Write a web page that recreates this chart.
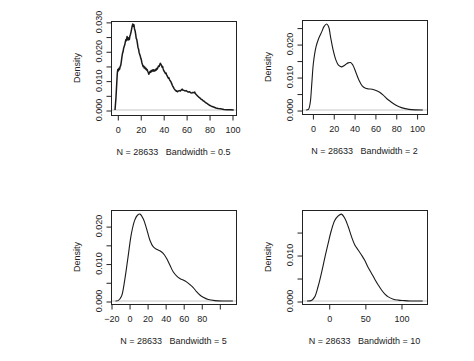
<!DOCTYPE html>
<html>
<head>
<meta charset="utf-8">
<script src="https://cdn.jsdelivr.net/npm/d3@7"></script>
<style>
  body { margin: 0; background: #fff; }
  text { font-family: "Liberation Sans", Arial, sans-serif; fill: #222; white-space: pre; }
</style>
</head>
<body>
<div id="chart"></div>
<script>
const width = 474;
const height = 361;

// density estimates, [x, density]
const bw05 = [[-2,0],[-1.2,0.004],[-0.5,0.009],[0,0.0125],[0.4,0.0138],[0.9,0.0133],[1.4,0.0142],[1.9,0.0138],[2.5,0.0148],[3,0.0152],[3.5,0.0165],[4,0.018],[4.5,0.0192],[5,0.0198],[5.5,0.021],[6,0.0216],[6.5,0.0222],[7,0.0232],[7.5,0.024],[8,0.0236],[8.5,0.025],[9,0.0244],[9.5,0.0238],[10,0.0246],[10.5,0.024],[11,0.0252],[11.5,0.0258],[12,0.0266],[12.5,0.0276],[13,0.0286],[13.5,0.0293],[14,0.0285],[14.5,0.029],[15,0.0276],[15.5,0.027],[16,0.0258],[16.5,0.0244],[17,0.024],[17.5,0.0228],[18,0.0214],[18.5,0.0208],[19,0.0196],[19.5,0.019],[20,0.0184],[20.5,0.0176],[21,0.017],[21.5,0.016],[22,0.0154],[22.5,0.0148],[23,0.015],[23.5,0.0143],[24,0.0146],[24.5,0.014],[25,0.0142],[25.5,0.0136],[26,0.0138],[26.5,0.0132],[27,0.0128],[27.5,0.0122],[28,0.0127],[28.5,0.0131],[29,0.0128],[29.5,0.0134],[30,0.0131],[30.5,0.0136],[31,0.0133],[31.5,0.0137],[32,0.0132],[32.5,0.0136],[33,0.0134],[33.5,0.0139],[34,0.0136],[34.5,0.0142],[35,0.014],[35.5,0.0146],[36,0.015],[36.5,0.0148],[37,0.0154],[37.5,0.0159],[38,0.0156],[38.5,0.0152],[39,0.0146],[39.5,0.0148],[40,0.014],[40.5,0.0134],[41,0.0131],[41.5,0.0128],[42,0.0124],[42.5,0.0126],[43,0.012],[43.5,0.0116],[44,0.0112],[44.5,0.0108],[45,0.011],[45.5,0.0104],[46,0.01],[46.5,0.0098],[47,0.0094],[47.5,0.0089],[48,0.0084],[48.5,0.008],[49,0.0077],[49.5,0.0073],[50,0.007],[50.5,0.0068],[51,0.0066],[51.5,0.0064],[52,0.0065],[52.5,0.0062],[53,0.0064],[54,0.0066],[55,0.0065],[56,0.0069],[56.5,0.0071],[57,0.0068],[58,0.0067],[59,0.0065],[60,0.0066],[61,0.0063],[62,0.0061],[63,0.0062],[64,0.0059],[65,0.0058],[66,0.006],[67,0.0059],[67.5,0.0061],[68,0.0056],[69,0.0052],[70,0.0048],[71,0.0044],[72,0.0041],[73,0.0037],[74,0.0035],[75,0.0031],[76,0.0029],[77,0.0025],[78,0.0023],[79,0.002],[80,0.0017],[82,0.0013],[84,0.001],[86,0.0007],[88,0.0005],[90,0.0004],[93,0.0002],[96,0.0001],[99,0.00005],[101.5,0]];

const bw2 = [[-6,0],[-3.8,0.0002],[-2.2,0.002],[-0.6,0.008],[0.9,0.0141],[3.5,0.0192],[6,0.0217],[8.9,0.0237],[11.1,0.0253],[13.6,0.0261],[15.5,0.0253],[17.4,0.0222],[19.9,0.0182],[22.5,0.0152],[25,0.0136],[27.8,0.0131],[31,0.0136],[34.2,0.0143],[36.7,0.0144],[38.9,0.0136],[41.5,0.0116],[44.6,0.0091],[47.8,0.0073],[51,0.0066],[54.1,0.0064],[57.3,0.0063],[61.1,0.0059],[64.9,0.0053],[68,0.0045],[71.2,0.0035],[75.3,0.0025],[79.4,0.0016],[83.2,0.001],[88,0.0005],[92.7,0.0002],[99,0.00005],[106,0]];

const bw5 = [[-15,0],[-12.2,0.0001],[-8.5,0.0012],[-4.8,0.0056],[-1.1,0.0118],[2.6,0.018],[6.3,0.0216],[9.3,0.0229],[12.2,0.0232],[15.6,0.022],[19.3,0.0194],[23,0.0163],[26.7,0.0145],[30.4,0.0138],[34.1,0.0134],[37.8,0.0127],[41.5,0.0114],[45.2,0.0096],[48.9,0.0078],[52.6,0.0067],[56.3,0.006],[60,0.0056],[63.7,0.0051],[67.4,0.0044],[71.1,0.0036],[74.8,0.0025],[78.5,0.0016],[82.2,0.001],[87.8,0.0004],[95.2,0.0001],[104.4,0],[115,0]];

const bw10 = [[-30,0],[-24.1,0.0001],[-19.4,0.0009],[-14.8,0.0031],[-10.2,0.006],[-5.6,0.0093],[-0.9,0.0125],[3.7,0.0154],[8.3,0.0175],[13,0.0185],[17.6,0.0189],[22.2,0.018],[26.9,0.0162],[31.5,0.014],[36.1,0.0122],[40.7,0.0111],[45.4,0.01],[50,0.0088],[54.6,0.0073],[59.3,0.006],[63.9,0.0047],[68.5,0.0035],[73.1,0.0024],[77.8,0.0015],[82.4,0.0009],[89.4,0.0004],[96.3,0.0002],[103.2,0.0001],[112.5,0],[130,0]];

const subtitles = [
  "N = 28633   Bandwidth = 0.5",
  "N = 28633   Bandwidth = 2",
  "N = 28633   Bandwidth = 5",
  "N = 28633   Bandwidth = 10",
];
const xTicks = [
  [0, 20, 40, 60, 80, 100],
  [0, 20, 40, 60, 80, 100],
  [-20, 0, 20, 40, 60, 80, 100],
  [0, 50, 100],
];
const xTickLabels = [
  ["0", "20", "40", "60", "80", "100"],
  ["0", "20", "40", "60", "80", "100"],
  ["\u221220", "0", "20", "40", "60", "80", ""],
  ["0", "50", "100"],
];
const yTicks = [
  [0, 0.005, 0.01, 0.015, 0.02, 0.025, 0.03],
  [0, 0.005, 0.01, 0.015, 0.02, 0.025],
  [0, 0.005, 0.01, 0.015, 0.02],
  [0, 0.005, 0.01, 0.015],
];
const yTickLabels = [
  ["0.000", "0.010", "0.020", "0.030"],
  ["0.000", "0.010", "0.020"],
  ["0.000", "0.010", "0.020"],
  ["0.000", "0.010"],
];
const yLabelValues = [
  [0, 0.01, 0.02, 0.03],
  [0, 0.01, 0.02],
  [0, 0.01, 0.02],
  [0, 0.01],
];
const xDomains = [[-5.5, 103.5], [-10, 110], [-20, 118.5], [-37, 136]];
const yDomains = [[-0.0017, 0.0303], [-0.0012, 0.0273], [-0.0008, 0.0243], [-0.00065, 0.0198]];
const curves = [bw05, bw2, bw5, bw10];

const panels = [
  { left: 111, top: 21, bottom: 115 },
  { left: 302, top: 20, bottom: 114 },
  { left: 111, top: 210, bottom: 304 },
  { left: 302, top: 210, bottom: 304 },
];
const panelWidth = 125;
const fontSize = 9;

const svg = d3
  .select("#chart")
  .append("svg")
  .attr("width", width)
  .attr("height", height);

panels.forEach((p, i) => {
  const x = d3
    .scaleLinear()
    .domain(xDomains[i])
    .range([p.left, p.left + panelWidth]);
  const y = d3
    .scaleLinear()
    .domain(yDomains[i])
    .range([p.bottom, p.top]);

  const g = svg.append("g");

  // zero line (grey, like R's plot.density)
  g.append("line")
    .attr("x1", p.left)
    .attr("x2", p.left + panelWidth)
    .attr("y1", y(0))
    .attr("y2", y(0))
    .attr("stroke", "#b8b8b8")
    .attr("stroke-width", 0.8);

  const line = d3
    .line()
    .x((d) => x(d[0]))
    .y((d) => y(d[1]))
    .curve(i === 0 ? d3.curveLinear : d3.curveCatmullRom);

  g.append("path")
    .datum(curves[i])
    .attr("d", line)
    .attr("fill", "none")
    .attr("stroke", "#1a1a1a")
    .attr("stroke-width", i === 0 ? 1.5 : 1.1)
    .attr("stroke-linejoin", "round");

  // box
  g.append("rect")
    .attr("x", p.left + 0.5)
    .attr("y", p.top + 0.5)
    .attr("width", panelWidth)
    .attr("height", p.bottom - p.top)
    .attr("fill", "none")
    .attr("stroke", "#222")
    .attr("stroke-width", 1);

  // x axis
  const xAxis = d3
    .axisBottom(x)
    .tickValues(xTicks[i])
    .tickSize(5)
    .tickPadding(6)
    .tickFormat((d, k) => xTickLabels[i][k]);
  const xg = g
    .append("g")
    .attr("transform", `translate(0.5,${p.bottom + 0.5})`)
    .call(xAxis);
  xg.select(".domain")
    .attr("d", `M${x(xTicks[i][0])},0H${x(xTicks[i][xTicks[i].length - 1])}`)
    .attr("stroke", "#222");
  xg.selectAll(".tick line").attr("stroke", "#222");
  xg.selectAll("text")
    .style("font-family", "'Liberation Sans', Arial, sans-serif")
    .style("font-size", fontSize + "px")
    .attr("fill", "#222");

  // y axis ticks
  const yAxis = d3
    .axisLeft(y)
    .tickValues(yTicks[i])
    .tickSize(5)
    .tickFormat("");
  const yg = g
    .append("g")
    .attr("transform", `translate(${p.left + 0.5},0.5)`)
    .call(yAxis);
  yg.select(".domain")
    .attr("d", `M0,${y(yTicks[i][0])}V${y(yTicks[i][yTicks[i].length - 1])}`)
    .attr("stroke", "#222");
  yg.selectAll(".tick line").attr("stroke", "#222");

  // rotated y tick labels
  g.selectAll(".ylab")
    .data(yLabelValues[i])
    .enter()
    .append("text")
    .attr("class", "ylab")
    .attr("transform", (d) => `translate(${p.left - 9},${y(d)}) rotate(-90)`)
    .attr("text-anchor", "middle")
    .attr("font-size", fontSize)
    .text((d, k) => yTickLabels[i][k]);

  // y title
  g.append("text")
    .attr("transform", `translate(${p.left - 31},${(p.top + p.bottom) / 2}) rotate(-90)`)
    .attr("text-anchor", "middle")
    .attr("font-size", fontSize)
    .text("Density");

  // subtitle
  g.append("text")
    .attr("x", p.left + panelWidth / 2)
    .attr("y", p.bottom + 40)
    .attr("text-anchor", "middle")
    .attr("font-size", fontSize)
    .text(subtitles[i]);
});
</script>
</body>
</html>
